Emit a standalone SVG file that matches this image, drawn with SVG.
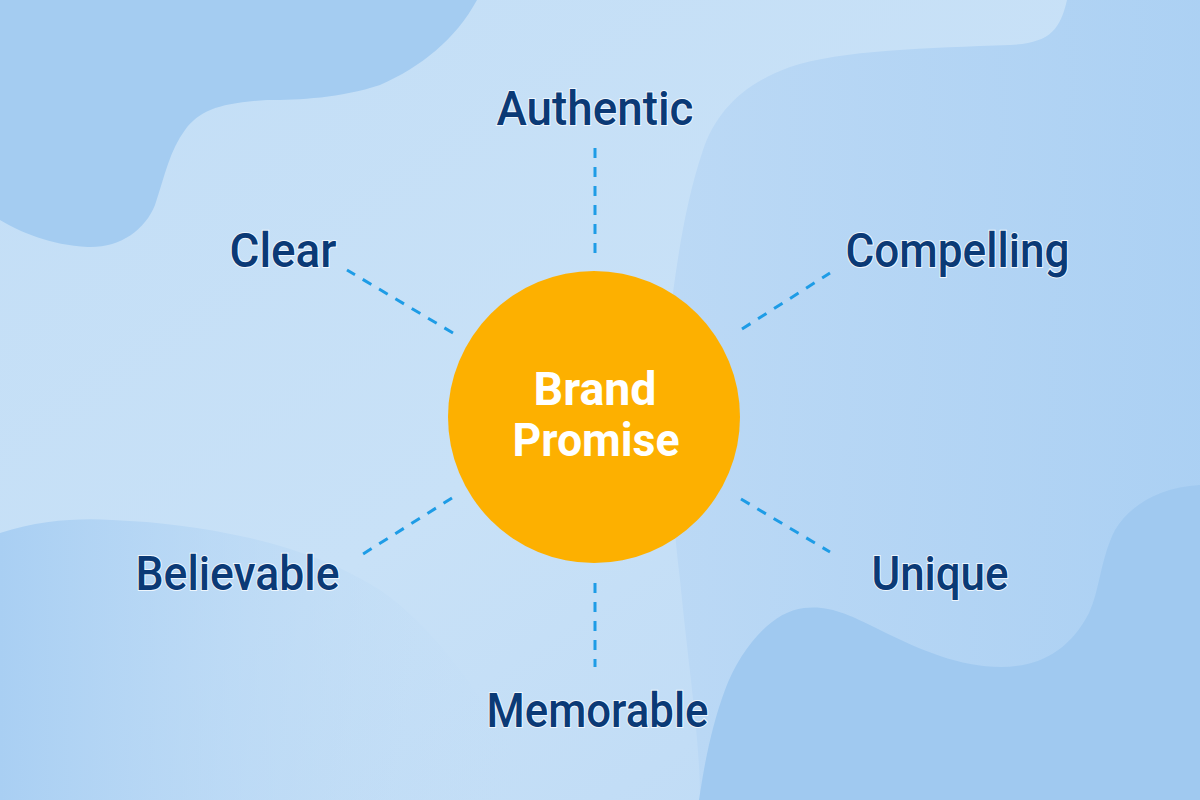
<svg xmlns="http://www.w3.org/2000/svg" width="1200" height="800" viewBox="0 0 1200 800">
  <defs>
    <linearGradient id="bgGrad" x1="0" y1="0" x2="1" y2="1">
      <stop offset="0" stop-color="#c3def6"/>
      <stop offset="0.5" stop-color="#c8e1f7"/>
      <stop offset="1" stop-color="#bcd9f5"/>
    </linearGradient>
    <linearGradient id="rightGrad" x1="0" y1="0" x2="1" y2="0">
      <stop offset="0" stop-color="#bad8f5"/>
      <stop offset="1" stop-color="#a9cff3"/>
    </linearGradient>
    <linearGradient id="blGrad" x1="0" y1="0" x2="1" y2="0">
      <stop offset="0" stop-color="#a9cff3"/>
      <stop offset="1" stop-color="#c3def6" stop-opacity="0"/>
    </linearGradient>
    <style>
      .label { font-family: Roboto, "Liberation Sans", sans-serif; font-weight: 500; font-size: 48px; fill: #0b3a76; stroke: #eef6fd; stroke-width: 2; paint-order: stroke; text-anchor: middle; }
      .center { font-family: Roboto, "Liberation Sans", sans-serif; font-weight: 700; font-size: 47px; fill: #ffffff; text-anchor: middle; }
      .conn { stroke: #1e9ce6; stroke-width: 3; stroke-dasharray: 10 9; fill: none; }
    </style>
  </defs>

  <g id="background">
    <rect x="0" y="0" width="1200" height="800" fill="url(#bgGrad)"/>
    <path d="M1067,0 C1060,30 1050,43 1010,45 C930,48 840,50 790,67 C740,85 715,115 703,150 C688,195 680,240 672,300 C665,380 668,480 680,580 C690,680 700,740 700,800 L1200,800 L1200,0 Z" fill="url(#rightGrad)" opacity="0.9"/>
    <path d="M477,0 C455,40 421,67 380,85 C340,98 300,100 267,100 C220,103 200,110 185,130 C170,150 165,175 155,205 C145,230 120,248 88,247 C50,245 20,232 0,220 L0,0 Z" fill="#a4ccf1"/>
    <path d="M0,533 C40,520 80,518 112,520 C160,522 200,527 250,538 C300,550 340,565 380,590 C440,630 500,720 540,800 L0,800 Z" fill="url(#blGrad)"/>
    <path d="M699,800 C705,760 712,725 725,690 C740,650 770,612 804,608 C830,605 850,615 880,630 C920,650 960,667 1001,667 C1040,667 1070,650 1089,613 C1100,590 1100,560 1115,530 C1130,505 1160,487 1200,485 L1200,800 Z" fill="#a0c9f0"/>
  </g>

  <g id="connectors">
    <line class="conn" x1="595" y1="253" x2="595" y2="147"/>
    <line class="conn" x1="595" y1="583" x2="595" y2="667"/>
    <line class="conn" x1="453" y1="333" x2="347" y2="270"/>
    <line class="conn" x1="742" y1="329" x2="830" y2="273"/>
    <line class="conn" x1="452" y1="498" x2="363" y2="554"/>
    <line class="conn" x1="741" y1="499" x2="830" y2="552"/>
  </g>

  <g id="brand-promise">
    <circle cx="594" cy="417" r="146" fill="#fdb000"/>
    <text class="center" x="595" y="405" textLength="123" lengthAdjust="spacingAndGlyphs">Brand</text>
    <text class="center" x="596" y="456" textLength="167" lengthAdjust="spacingAndGlyphs">Promise</text>
  </g>

  <g id="authentic">
    <text class="label" x="595" y="125" textLength="197" lengthAdjust="spacingAndGlyphs">Authentic</text>
  </g>
  <g id="clear">
    <text class="label" x="283" y="267" textLength="107" lengthAdjust="spacingAndGlyphs">Clear</text>
  </g>
  <g id="compelling">
    <text class="label" x="957.5" y="267" textLength="224" lengthAdjust="spacingAndGlyphs">Compelling</text>
  </g>
  <g id="believable">
    <text class="label" x="237.5" y="590" textLength="204" lengthAdjust="spacingAndGlyphs">Believable</text>
  </g>
  <g id="unique">
    <text class="label" x="940" y="590" textLength="137" lengthAdjust="spacingAndGlyphs">Unique</text>
  </g>
  <g id="memorable">
    <text class="label" x="597.5" y="727" textLength="222" lengthAdjust="spacingAndGlyphs">Memorable</text>
  </g>
</svg>
